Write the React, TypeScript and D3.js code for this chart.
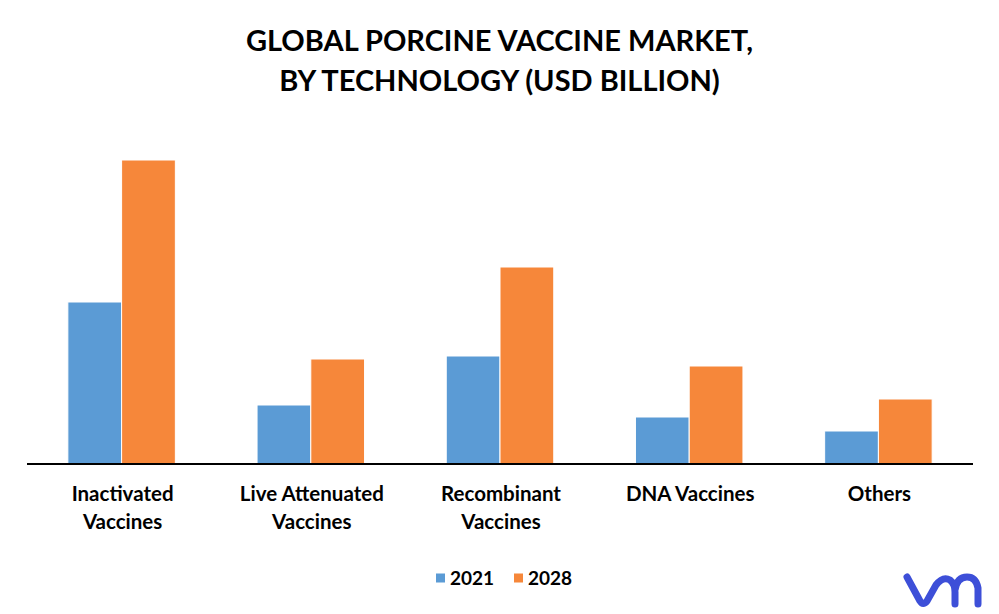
import React from 'react'
import { scaleBand, scaleLinear } from 'd3'

const categories = ['Inactivated Vaccines', 'Live Attenuated Vaccines', 'Recombinant Vaccines', 'DNA Vaccines', 'Others']
const categoryLines = [['Inactivated', 'Vaccines'], ['Live Attenuated', 'Vaccines'], ['Recombinant', 'Vaccines'], ['DNA Vaccines'], ['Others']]
const seriesKeys = ['2021', '2028']
const values2021 = [1.62, 0.59, 1.08, 0.47, 0.33]
const values2028 = [3.04, 1.05, 1.97, 0.98, 0.65]

const colors: { [k: string]: string } = { '2021': '#5B9BD5', '2028': '#F6873A' }
const font = 'Lato, "Open Sans", sans-serif'

const W = 999
const H = 614
const baseY = 464

export default function App() {
  const x0 = scaleBand().domain(categories).range([27, 973]).padding(0)
  const x1 = scaleBand().domain(seriesKeys).range([0, x0.bandwidth()]).paddingInner(0).paddingOuter(0.76)
  const y = scaleLinear().domain([0, 3.04]).range([baseY, 160])
  const series = { '2021': values2021, '2028': values2028 }

  return (
    <svg width={W} height={H} style={{ position: 'absolute', left: 0, top: 0, background: '#fff' }}>
      <text x={W / 2} y={51} textAnchor="middle" fontFamily={font} fontWeight={700} fontSize={29} fill="#000">
        GLOBAL PORCINE VACCINE MARKET,
      </text>
      <text x={W / 2} y={91} textAnchor="middle" fontFamily={font} fontWeight={700} fontSize={29} fill="#000">
        BY TECHNOLOGY (USD BILLION)
      </text>

      {categories.map((c, i) => (
        <g key={c} transform={`translate(${x0(c)},0)`}>
          {seriesKeys.map(k => {
            const v = series[k][i]
            return (
              <rect key={k} x={x1(k)} y={y(v)} width={x1.bandwidth()} height={baseY - y(v)}
                fill={colors[k]} stroke="#fff" strokeWidth={1} />
            )
          })}
          {categoryLines[i].map((line, j) => (
            <text key={j} x={x0.bandwidth() / 2 + 1} y={501 + j * 28} textAnchor="middle"
              fontFamily={font} fontWeight={700} fontSize={20.5} fill="#000">{line}</text>
          ))}
        </g>
      ))}

      <line x1={27} x2={973} y1={baseY} y2={baseY} stroke="#000" strokeWidth={2} />

      {seriesKeys.map((k, i) => (
        <g key={k} transform={`translate(${436 + i * 78},578)`}>
          <rect x={0} y={-4.5} width={9} height={9} fill={colors[k]} />
          <text x={14} y={7} fontFamily={font} fontWeight={700} fontSize={19} fill="#000">{k}</text>
        </g>
      ))}

      <path d="M907,577 L920,601 Q923,606 927,601 L936,585 Q943,576 950,580 Q955,584 955,592 L955,604 M955,590 Q957,577 967,577 Q976,577 978,588 L978,604"
        fill="none" stroke="#3D4FD8" strokeWidth={7} strokeLinecap="round" strokeLinejoin="round" />
    </svg>
  )
}
